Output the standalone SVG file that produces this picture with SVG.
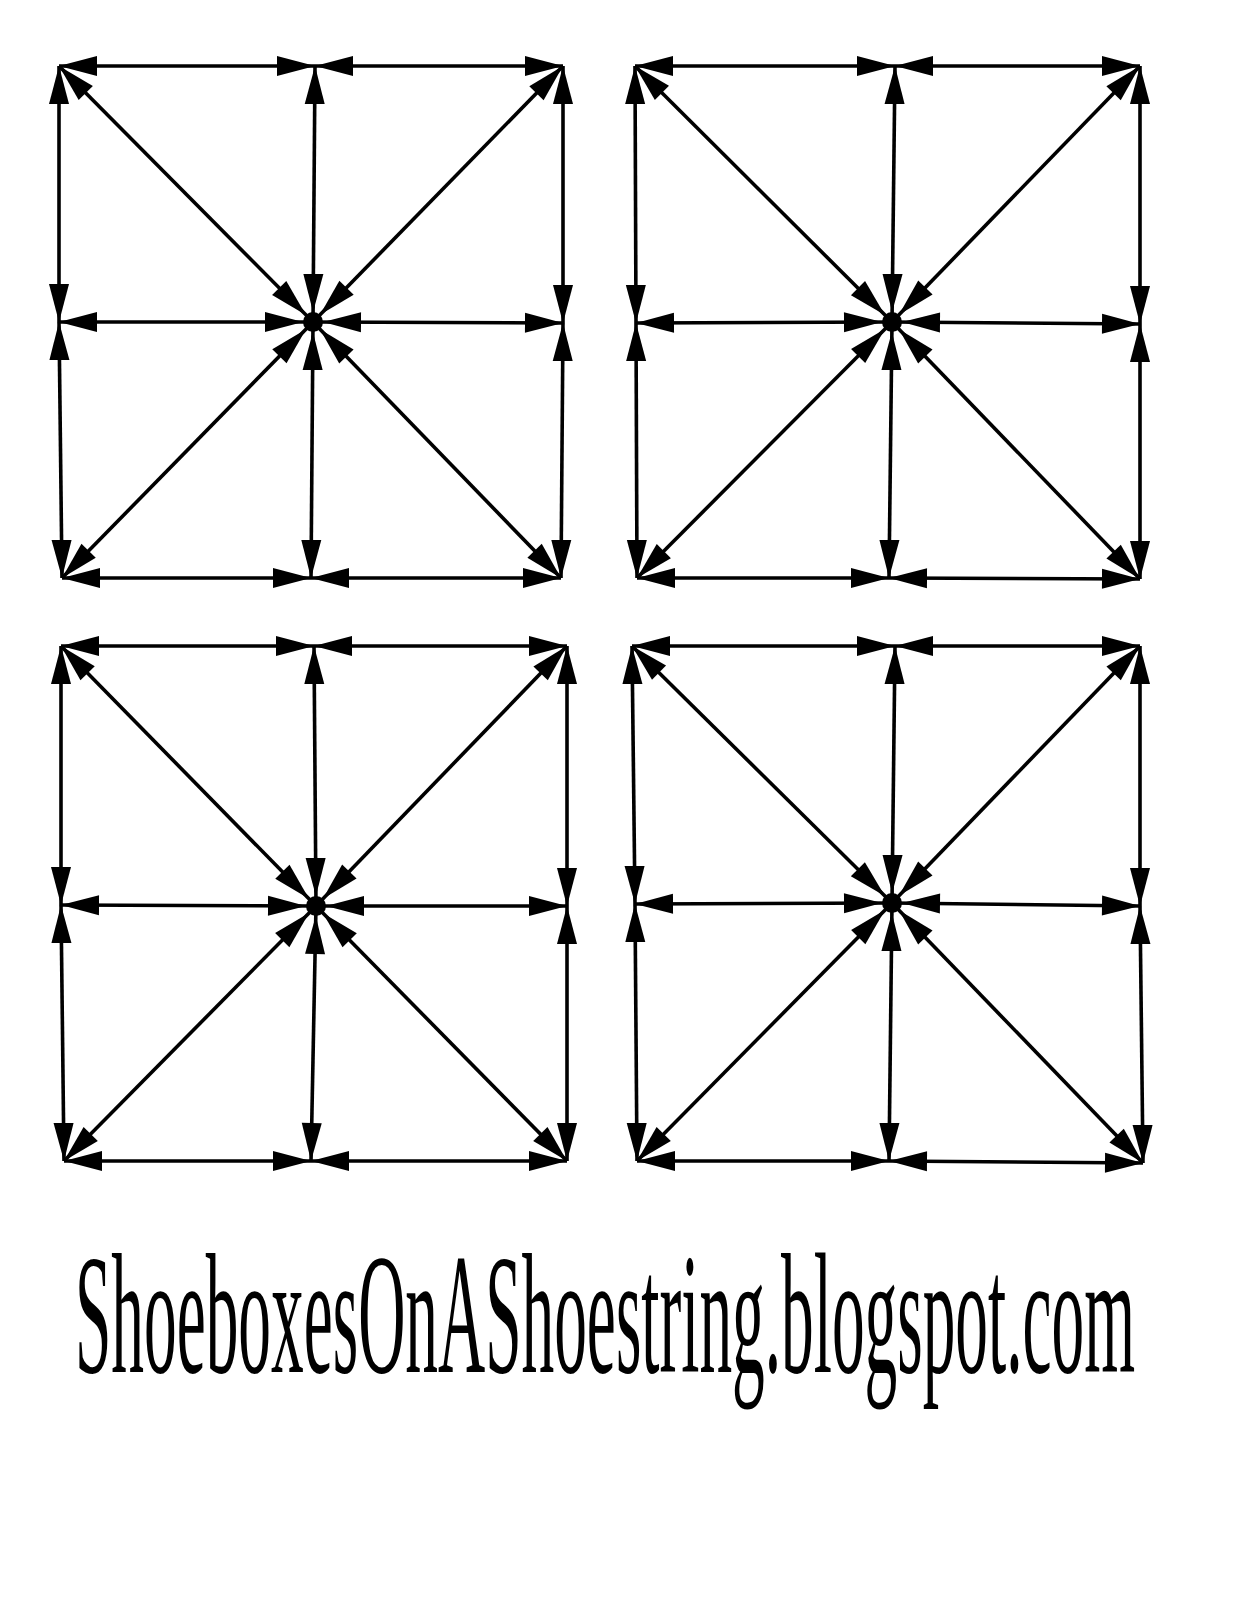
<svg xmlns="http://www.w3.org/2000/svg" width="1237" height="1600" viewBox="0 0 1237 1600">
<style>
.e{stroke:#000;stroke-width:3.6;fill:none;marker-start:url(#out);marker-end:url(#out)}
.s{stroke:#000;stroke-width:3.6;fill:none;marker-start:url(#out);marker-end:url(#in)}
.dot{fill:#000}
.t{font-family:"Liberation Serif","DejaVu Serif",serif;font-size:172px;fill:#000}
</style>
<defs>
<marker id="out" viewBox="0 0 38 20" refX="38" refY="10" markerWidth="38" markerHeight="20" markerUnits="userSpaceOnUse" orient="auto-start-reverse" overflow="visible"><path d="M0,0 L38,10 L0,20 z" fill="#000"/></marker>
<marker id="in" viewBox="0 0 38 20" refX="48" refY="10" markerWidth="38" markerHeight="20" markerUnits="userSpaceOnUse" orient="auto-start-reverse" overflow="visible"><path d="M0,0 L38,10 L0,20 z" fill="#000"/></marker>
</defs>
<rect width="1237" height="1600" fill="#fff"/>
<g id="connectors">
<!-- square 1 -->
<path class="e" d="M59,66 L315,66"/><path class="e" d="M315,66 L563,66"/>
<path class="e" d="M62,578 L311,578"/><path class="e" d="M311,578 L561,578"/>
<path class="e" d="M59,66 L59,322"/><path class="e" d="M59,322 L62,578"/>
<path class="e" d="M563,66 L563,323"/><path class="e" d="M563,323 L561,578"/>
<path class="s" d="M59,66 L313,322"/><path class="s" d="M315,66 L313,322"/><path class="s" d="M563,66 L313,322"/><path class="s" d="M563,323 L313,322"/>
<path class="s" d="M561,578 L313,322"/><path class="s" d="M311,578 L313,322"/><path class="s" d="M62,578 L313,322"/><path class="s" d="M59,322 L313,322"/>
<!-- square 2 -->
<path class="e" d="M635,66 L895,66"/><path class="e" d="M895,66 L1140,66"/>
<path class="e" d="M637,578 L889,578"/><path class="e" d="M889,578 L1140,579"/>
<path class="e" d="M635,66 L636,323"/><path class="e" d="M636,323 L637,578"/>
<path class="e" d="M1140,66 L1140,324"/><path class="e" d="M1140,324 L1140,579"/>
<path class="s" d="M635,66 L892,322"/><path class="s" d="M895,66 L892,322"/><path class="s" d="M1140,66 L892,322"/><path class="s" d="M1140,324 L892,322"/>
<path class="s" d="M1140,579 L892,322"/><path class="s" d="M889,578 L892,322"/><path class="s" d="M637,578 L892,322"/><path class="s" d="M636,323 L892,322"/>
<!-- square 3 -->
<path class="e" d="M61,646 L314,646"/><path class="e" d="M314,646 L567,646"/>
<path class="e" d="M64,1161 L311,1161"/><path class="e" d="M311,1161 L567,1161"/>
<path class="e" d="M61,646 L61,905"/><path class="e" d="M61,905 L64,1161"/>
<path class="e" d="M567,646 L567,906"/><path class="e" d="M567,906 L567,1161"/>
<path class="s" d="M61,646 L316,906"/><path class="s" d="M314,646 L316,906"/><path class="s" d="M567,646 L316,906"/><path class="s" d="M567,906 L316,906"/>
<path class="s" d="M567,1161 L316,906"/><path class="s" d="M311,1161 L316,906"/><path class="s" d="M64,1161 L316,906"/><path class="s" d="M61,905 L316,906"/>
<!-- square 4 -->
<path class="e" d="M632,646 L895,646"/><path class="e" d="M895,646 L1140,646"/>
<path class="e" d="M637,1161 L889,1161"/><path class="e" d="M889,1161 L1143,1163"/>
<path class="e" d="M632,646 L635,904"/><path class="e" d="M635,904 L637,1161"/>
<path class="e" d="M1140,646 L1140,906"/><path class="e" d="M1140,906 L1143,1163"/>
<path class="s" d="M632,646 L892,903"/><path class="s" d="M895,646 L892,903"/><path class="s" d="M1140,646 L892,903"/><path class="s" d="M1140,906 L892,903"/>
<path class="s" d="M1143,1163 L892,903"/><path class="s" d="M889,1161 L892,903"/><path class="s" d="M637,1161 L892,903"/><path class="s" d="M635,904 L892,903"/>
</g>
<g id="center1"><circle class="dot" cx="313" cy="322" r="10"/></g>
<g id="center2"><circle class="dot" cx="892" cy="322" r="10"/></g>
<g id="center3"><circle class="dot" cx="316" cy="906" r="10"/></g>
<g id="center4"><circle class="dot" cx="892" cy="903" r="10"/></g>
<g id="caption"><text class="t" transform="translate(75,1372) scale(0.4,1)" x="0" y="0" textLength="2650" lengthAdjust="spacingAndGlyphs">ShoeboxesOnAShoestring.blogspot.com</text></g>
</svg>
